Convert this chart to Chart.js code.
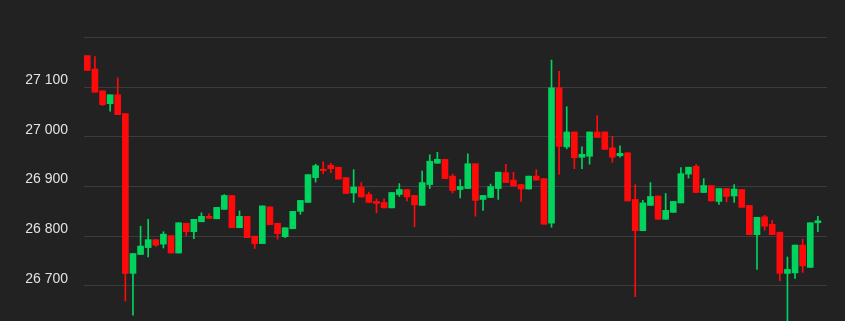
<!DOCTYPE html>
<html>
<head>
<meta charset="utf-8">
<script src="https://cdn.jsdelivr.net/npm/chart.js@4.4.1/dist/chart.umd.min.js"></script>
<style>
  html, body { margin: 0; padding: 0; background: #222222; }
  canvas { display: block; }
</style>
</head>
<body>
<canvas id="candles" width="845" height="321"></canvas>
<script>
// OHLC per candle (one entry per candle, left to right)
const open = [
  27164, 27137, 27093, 27067, 27085, 27047, 26725, 26763, 26777, 26793,
  26784, 26801, 26766, 26826, 26809, 26829, 26840, 26835, 26854, 26882,
  26817, 26840, 26800, 26785, 26859, 26826, 26799, 26815, 26850, 26868,
  26918, 26935, 26943, 26939, 26918, 26887, 26899, 26884, 26870, 26868,
  26857, 26884, 26894, 26882, 26862, 26904, 26947, 26955, 26921, 26894,
  26896, 26946, 26874, 26878, 26896, 26928, 26913, 26904, 26895, 26921,
  26916, 26826, 27099, 26980, 27010, 26959, 26961, 27010, 27010, 26978,
  26962, 26968, 26874, 26811, 26862, 26881, 26834, 26848, 26867, 26925,
  26941, 26888, 26902, 26870, 26896, 26881, 26894, 26862, 26803, 26839,
  26824, 26808, 26725, 26726, 26782, 26737, 26827
];
const high = [
  27164, 27162, 27093, 27085, 27119, 27047, 26765, 26820, 26834, 26793,
  26809, 26801, 26827, 26826, 26834, 26847, 26845, 26858, 26884, 26882,
  26851, 26840, 26800, 26861, 26859, 26826, 26817, 26850, 26872, 26924,
  26945, 26950, 26947, 26939, 26918, 26934, 26908, 26889, 26875, 26875,
  26888, 26906, 26894, 26882, 26931, 26964, 26969, 26955, 26925, 26914,
  26966, 26946, 26882, 26905, 26929, 26945, 26929, 26904, 26921, 26934,
  26916, 27155, 27132, 27061, 27010, 26980, 27010, 27043, 27010, 27001,
  26982, 26968, 26904, 26872, 26908, 26881, 26886, 26870, 26938, 26939,
  26945, 26916, 26902, 26896, 26896, 26904, 26894, 26862, 26838, 26842,
  26832, 26808, 26758, 26782, 26794, 26827, 26840
];
const low = [
  27134, 27090, 27063, 27052, 27045, 26669, 26641, 26763, 26758, 26779,
  26776, 26766, 26766, 26800, 26795, 26829, 26836, 26835, 26854, 26817,
  26817, 26797, 26775, 26785, 26823, 26794, 26797, 26815, 26844, 26868,
  26909, 26926, 26928, 26915, 26886, 26868, 26879, 26868, 26847, 26857,
  26857, 26880, 26871, 26819, 26862, 26896, 26947, 26916, 26887, 26877,
  26896, 26840, 26852, 26878, 26874, 26908, 26901, 26870, 26895, 26913,
  26824, 26818, 26925, 26976, 26936, 26936, 26945, 26999, 26975, 26949,
  26959, 26871, 26678, 26811, 26862, 26834, 26834, 26848, 26867, 26917,
  26888, 26888, 26871, 26864, 26869, 26868, 26858, 26803, 26733, 26812,
  26803, 26710, 26600, 26715, 26727, 26737, 26809
];
const close = [
  27134, 27090, 27065, 27085, 27045, 26725, 26765, 26780, 26793, 26782,
  26804, 26766, 26827, 26809, 26834, 26840, 26836, 26858, 26882, 26817,
  26840, 26797, 26785, 26861, 26823, 26805, 26817, 26850, 26872, 26924,
  26942, 26932, 26936, 26915, 26886, 26899, 26879, 26868, 26866, 26857,
  26888, 26894, 26879, 26863, 26908, 26951, 26955, 26916, 26892, 26900,
  26946, 26872, 26882, 26900, 26929, 26908, 26901, 26895, 26921, 26913,
  26824, 27099, 26981, 27010, 26958, 26965, 27010, 26999, 26975, 26959,
  26967, 26871, 26811, 26867, 26880, 26834, 26852, 26870, 26926, 26939,
  26888, 26902, 26871, 26896, 26880, 26895, 26858, 26803, 26838, 26820,
  26803, 26725, 26733, 26782, 26740, 26827, 26831
];

const yTicks = [26700, 26800, 26900, 27000, 27100, 27200];

const UP = "#00d45e";
const DOWN = "#ff0a0a";

const colors = open.map((o, i) => (close[i] >= o ? UP : DOWN));
const bodies = open.map((o, i) => ({ x: i, y: [o, close[i]] }));
const wicks = open.map((o, i) => ({ x: i, y: [low[i], high[i]] }));

const fmt = (v) => String(v).replace(/\B(?=(\d{3})+(?!\d))/g, " ");

new Chart(document.getElementById("candles"), {
  type: "bar",
  data: {
    datasets: [
      {
        label: "body",
        data: bodies,
        backgroundColor: colors,
        borderWidth: 0,
        barThickness: 6,
        grouped: false,
        order: 0,
      },
      {
        label: "wick",
        data: wicks,
        backgroundColor: colors,
        borderWidth: 0,
        barThickness: 1,
        grouped: false,
        order: 1,
      },
    ],
  },
  options: {
    responsive: false,
    animation: false,
    layout: { padding: { top: 0, right: 18, bottom: 0, left: 0 } },
    plugins: {
      legend: { display: false },
      tooltip: { enabled: false },
    },
    scales: {
      x: {
        type: "linear",
        display: false,
        offset: false,
        min: -0.434,
        max: 97.2,
      },
      y: {
        min: 26629,
        max: 27276,
        afterFit: (scale) => {
          // fixed axis width, and no extra room above/below for the labels
          scale.width = 84;
          scale.paddingTop = 0;
          scale.paddingBottom = 0;
        },
        afterBuildTicks: (scale) => {
          scale.ticks = yTicks.map((v) => ({ value: v }));
        },
        border: { display: false },
        grid: {
          color: "#3c3c3c",
          lineWidth: 1,
          drawTicks: false,
        },
        ticks: {
          padding: 16,
          labelOffset: -7,
          color: "#e2e2e2",
          font: { family: "'Liberation Sans', Arial, sans-serif", size: 14 },
          callback: (v) => (v >= 27200 ? "" : fmt(v)),
        },
      },
    },
  },
});
</script>
</body>
</html>
